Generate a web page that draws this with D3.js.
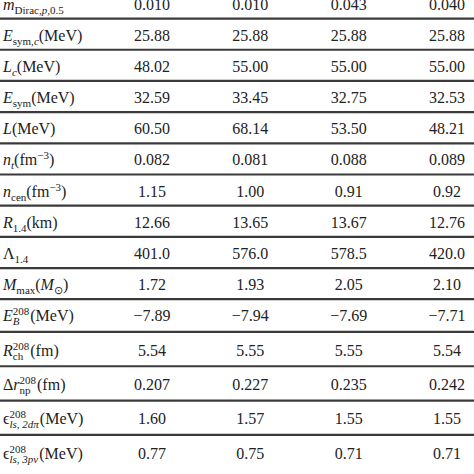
<!DOCTYPE html><html><head><meta charset="utf-8">
<script src="https://cdn.jsdelivr.net/npm/d3@7"></script>
<style>body{margin:0;background:#fff}svg{display:block}</style></head><body>
<script>
// label segments: [text, style]  style: n normal, i italic, b sub, bi sub italic, p sup, sb/sbi sub stacked under sup
const labels = [
  [["m","i"],["Dirac,","b"],["p","bi"],[",0.5","b"]],
  [["E","i"],["sym,","b"],["c","bi"],["(MeV)","n"]],
  [["L","i"],["c","bi"],["(MeV)","n"]],
  [["E","i"],["sym","b"],["(MeV)","n"]],
  [["L","i"],["(MeV)","n"]],
  [["n","i"],["t","bi"],["(fm","n"],["−3","p"],[")","n"]],
  [["n","i"],["cen","b"],["(fm","n"],["−3","p"],[")","n"]],
  [["R","i"],["1.4","b"],["(km)","n"]],
  [["Λ","n"],["1.4","b"]],
  [["M","i"],["max","b"],["(","n"],["M","i"],["⊙","b"],[")","n"]],
  [["E","i"],["208","p"],["B","sbi"],["(MeV)","n"]],
  [["R","i"],["208","p"],["ch","sb"],["(fm)","n"]],
  [["Δ","n"],["r","i"],["208","p"],["np","sb"],["(fm)","n"]],
  [["ϵ","n"],["208","p"],["ls, 2dπ","sbi"],["(MeV)","n"]],
  [["ϵ","n"],["208","p"],["ls, 3pν","sbi"],["(MeV)","n"]]
];
const col1 = ["0.010","25.88","48.02","32.59","60.50","0.082","1.15","12.66","401.0","1.72","−7.89","5.54","0.207","1.60","0.77"];
const col2 = ["0.010","25.88","55.00","33.45","68.14","0.081","1.00","13.65","576.0","1.93","−7.94","5.55","0.227","1.57","0.75"];
const col3 = ["0.043","25.88","55.00","32.75","53.50","0.088","0.91","13.67","578.5","2.05","−7.69","5.55","0.235","1.55","0.71"];
const col4 = ["0.040","25.88","55.00","32.53","48.21","0.089","0.92","12.76","420.0","2.10","−7.71","5.54","0.242","1.55","0.71"];
const columns = [col1,col2,col3,col4];

const W=474,H=474;
const svg=d3.select("body").append("svg").attr("width",W).attr("height",H);
const tall = labels.map(l=>l.some(s=>s[1]==="p"&&/208/.test(s[0])));
const units=[0];
for(let i=1;i<labels.length;i++) units.push(units[i-1]+((tall[i]&&tall[i-1])?1.1:1));
const y=d3.scaleLinear().domain([0,units[units.length-1]]).range([4,453]);
const x=d3.scalePoint().domain(d3.range(4)).range([152,447]);

for(let i=0;i<labels.length-1;i++){
  const yy=(y(units[i])+y(units[i+1]))/2-1;
  svg.append("line").attr("x1",0).attr("x2",W).attr("y1",yy).attr("y2",yy)
    .attr("stroke","#3a3a3a").attr("stroke-width",2.2);
}
const font="'Liberation Serif','Times New Roman',serif";
const off={n:0,b:4,p:-6};
labels.forEach((segs,i)=>{
  const t=svg.append("text").attr("x",3).attr("y",y(units[i])+5.5)
    .attr("font-family",font).attr("font-size",16).attr("fill","#222");
  let prev="n", supW=0, pendingDx=0;
  segs.forEach(([s,st])=>{
    const sp=t.append("tspan").text(s);
    const stacked=(st==="sb"||st==="sbi");
    const state = st==="p"?"p":(st[0]==="b"||stacked)?"b":"n";
    if(state!=="n") sp.attr("font-size",11);
    if(st.includes("i")) sp.attr("font-style","italic");
    sp.attr("dy",off[state]-off[prev]);
    if(stacked){
      sp.attr("dx",-supW);
      const w=sp.node().getComputedTextLength();
      pendingDx=Math.max(0,supW-w)+1;
    } else if(pendingDx){
      sp.attr("dx",pendingDx); pendingDx=0;
    }
    if(state==="p") supW=sp.node().getComputedTextLength();
    prev=state;
  });
});
columns.forEach((col,j)=>{
  svg.selectAll(null).data(col).enter().append("text")
    .attr("x",x(j)).attr("y",(d,i)=>y(units[i])+5.5).attr("text-anchor","middle")
    .attr("font-family",font).attr("font-size",16).attr("fill","#222").text(d=>d);
});
</script></body></html>
